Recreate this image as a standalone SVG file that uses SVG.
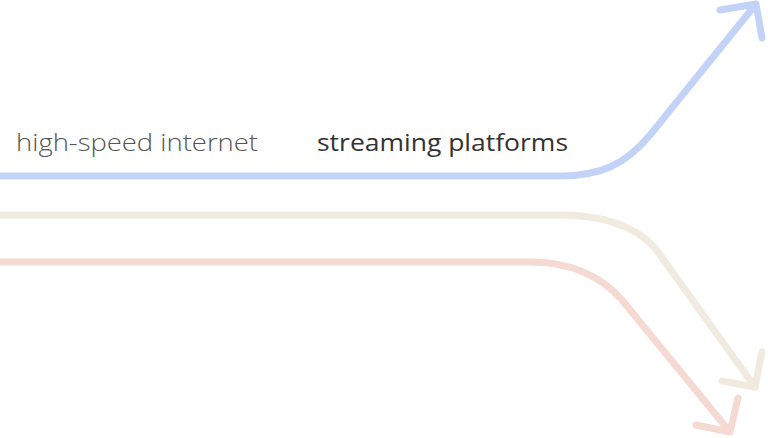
<svg xmlns="http://www.w3.org/2000/svg" width="768" height="438" viewBox="0 0 768 438">
<style>
.l{fill:none;stroke-width:7;stroke-linecap:round;stroke-linejoin:round}
.t{font-family:"Open Sans","DejaVu Sans",sans-serif;font-size:24px}
</style>
<rect width="768" height="438" fill="#fff"/>
<g id="connectors">
<path class="l" stroke="#c3d3f8" d="M0,176 L560,176 C600,176 625,165 650,135 L756,4 M720,10 L756,4 L762,38"/>
<path class="l" stroke="#f1eadf" d="M0,215 L560,215 C600,215 635,225 655,248 L755,387 M722,381 L755,387 L762,352"/>
<path class="l" stroke="#f5dad3" d="M0,262 L530,262 C570,262 600,275 622,300 L730,432 M696,425 L730,432 L738,398"/>
</g>
<g id="label-internet"><text class="t" x="16" y="151" fill="#555" font-weight="300" textLength="242" lengthAdjust="spacingAndGlyphs">high-speed internet</text></g>
<g id="label-streaming"><text class="t" x="317" y="151" fill="#333" textLength="251" lengthAdjust="spacingAndGlyphs">streaming platforms</text></g>
</svg>
